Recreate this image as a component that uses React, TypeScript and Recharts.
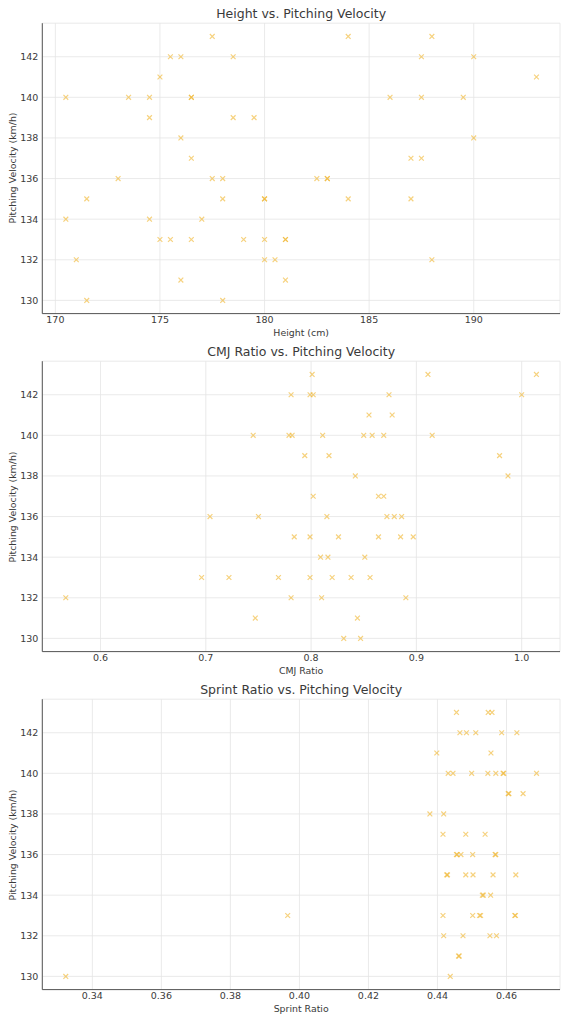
import React from 'react';
import { ScatterChart, Scatter, XAxis, YAxis, CartesianGrid } from 'recharts';

// Pitching velocity (km/h), grouped; the three x-value arrays follow the same order
const velocities = [
  143, 143, 143,
  142, 142, 142, 142, 142,
  141, 141,
  140, 140, 140, 140, 140, 140, 140, 140,
  139, 139, 139,
  138, 138,
  137, 137, 137,
  136, 136, 136, 136, 136, 136,
  135, 135, 135, 135, 135, 135,
  134, 134, 134,
  133, 133, 133, 133, 133, 133, 133,
  132, 132, 132, 132,
  131, 131,
  130, 130,
];

const heightsCm = [
  177.5, 184, 188,
  175.5, 176, 178.5, 187.5, 190,
  175, 193,
  170.5, 173.5, 174.5, 176.5, 176.5, 186, 187.5, 189.5,
  174.5, 178.5, 179.5,
  176, 190,
  176.5, 187, 187.5,
  173, 177.5, 178, 182.5, 183, 183,
  171.5, 178, 180, 180, 184, 187,
  170.5, 174.5, 177,
  175, 175.5, 176.5, 179, 180, 181, 181,
  171, 180, 180.5, 188,
  176, 181,
  171.5, 178,
];

const cmjRatios = [
  0.801, 0.911, 1.014,
  0.781, 0.799, 0.802, 0.874, 1.0,
  0.855, 0.877,
  0.745, 0.779, 0.782, 0.811, 0.85, 0.858, 0.869, 0.915,
  0.794, 0.817, 0.979,
  0.842, 0.987,
  0.802, 0.864, 0.869,
  0.704, 0.75, 0.815, 0.872, 0.879, 0.886,
  0.784, 0.799, 0.826, 0.864, 0.885, 0.897,
  0.809, 0.816, 0.851,
  0.696, 0.722, 0.769, 0.799, 0.82, 0.838, 0.856,
  0.567, 0.781, 0.81, 0.89,
  0.747, 0.844,
  0.831, 0.847,
];

const sprintRatios = [
  0.4455, 0.4547, 0.4558,
  0.4465, 0.4484, 0.4511, 0.4586, 0.463,
  0.4398, 0.4555,
  0.4431, 0.4445, 0.4499, 0.4546, 0.4569, 0.459, 0.4592, 0.4687,
  0.4605, 0.4607, 0.4648,
  0.4378, 0.4418,
  0.4416, 0.4482, 0.4538,
  0.4455, 0.4457, 0.4468, 0.4502, 0.4567, 0.4569,
  0.4427, 0.4429, 0.4482, 0.4503, 0.4561, 0.4627,
  0.453, 0.4533, 0.4554,
  0.3966, 0.4416, 0.4502, 0.4522, 0.4525, 0.4624, 0.4626,
  0.4418, 0.4474, 0.4552, 0.4571,
  0.4461, 0.4463,
  0.3323, 0.4437,
];

const velocityTicks = [130, 132, 134, 136, 138, 140, 142];
const heightTicks = [170, 175, 180, 185, 190];
const cmjTicks = [0.6, 0.7, 0.8, 0.9, 1.0];
const sprintTicks = [0.34, 0.36, 0.38, 0.4, 0.42, 0.44, 0.46];

const velocityDomain = [129.35, 143.65];
const heightDomain = [169.375, 194.125];
const cmjDomain = [0.5447, 1.0364];
const sprintDomain = [0.3255, 0.4755];

const FONT = '"DejaVu Sans", sans-serif';
const TEXT = '#3a3a3a';
const MARK = '#f0b429';

const XMark = (props: any) => {
  const { cx, cy } = props;
  if (cx == null || cy == null) return null;
  const s = 2.4;
  return (
    <path
      d={`M${cx - s},${cy - s}L${cx + s},${cy + s}M${cx - s},${cy + s}L${cx + s},${cy - s}`}
      stroke={MARK}
      strokeOpacity={0.6}
      strokeWidth={1.2}
      fill="none"
    />
  );
};

const panels = [
  {
    title: 'Height vs. Pitching Velocity',
    xLabel: 'Height (cm)',
    xs: heightsCm,
    ticks: heightTicks,
    domain: heightDomain,
    fmt: (v: number) => String(v),
  },
  {
    title: 'CMJ Ratio vs. Pitching Velocity',
    xLabel: 'CMJ Ratio',
    xs: cmjRatios,
    ticks: cmjTicks,
    domain: cmjDomain,
    fmt: (v: number) => v.toFixed(1),
  },
  {
    title: 'Sprint Ratio vs. Pitching Velocity',
    xLabel: 'Sprint Ratio',
    xs: sprintRatios,
    ticks: sprintTicks,
    domain: sprintDomain,
    fmt: (v: number) => v.toFixed(2),
  },
];

const PANEL_H = 338.2;
const PLOT_TOP = 23.2;
const PLOT_H = 290.4;
const PLOT_LEFT = 42.3;
const PLOT_W = 517.7;

export default function App() {
  return (
    <div
      style={{
        position: 'absolute',
        left: 0,
        top: 0,
        width: 569,
        height: 1024,
        background: '#fff',
        fontFamily: FONT,
        color: TEXT,
      }}
    >
      {panels.map((p, i) => {
        const data = p.xs.map((x, k) => ({ x, y: velocities[k] }));
        return (
          <div
            key={p.title}
            style={{ position: 'absolute', left: 0, top: i * PANEL_H, width: 569, height: 338 }}
          >
            <ScatterChart
              width={569}
              height={338}
              margin={{ top: PLOT_TOP, right: 569 - PLOT_LEFT - PLOT_W, bottom: 0, left: 0 }}
            >
              <CartesianGrid stroke="#e4e4e4" strokeWidth={0.8} />
              <XAxis
                type="number"
                dataKey="x"
                domain={p.domain}
                ticks={p.ticks}
                interval={0}
                allowDataOverflow
                tickFormatter={p.fmt}
                height={338 - PLOT_TOP - PLOT_H}
                tickLine={false}
                tickSize={3}
                tickMargin={0}
                axisLine={{ stroke: '#555', strokeWidth: 1 }}
                tick={{ fill: TEXT, fontSize: 9.5, fontFamily: FONT }}
              />
              <YAxis
                type="number"
                dataKey="y"
                domain={velocityDomain}
                ticks={velocityTicks}
                interval={0}
                allowDataOverflow
                width={PLOT_LEFT}
                tickLine={false}
                tickSize={4}
                tickMargin={0}
                axisLine={{ stroke: '#555', strokeWidth: 1 }}
                tick={{ fill: TEXT, fontSize: 9.5, fontFamily: FONT }}
              />
              <Scatter data={data} shape={XMark} isAnimationActive={false} />
            </ScatterChart>
            <div
              style={{
                position: 'absolute',
                left: PLOT_LEFT,
                width: PLOT_W,
                top: 6,
                textAlign: 'center',
                fontSize: 12.5,
                lineHeight: '16px',
                whiteSpace: 'nowrap',
              }}
            >
              {p.title}
            </div>
            <div
              style={{
                position: 'absolute',
                left: PLOT_LEFT,
                width: PLOT_W,
                top: 325,
                textAlign: 'center',
                fontSize: 9.4,
                lineHeight: '16px',
                whiteSpace: 'nowrap',
              }}
            >
              {p.xLabel}
            </div>
            <div
              style={{
                position: 'absolute',
                left: 12.8,
                top: PLOT_TOP + PLOT_H / 2,
                transform: 'translate(-50%, -50%) rotate(-90deg)',
                fontSize: 9.4,
                lineHeight: '12px',
                whiteSpace: 'nowrap',
              }}
            >
              Pitching Velocity (km/h)
            </div>
          </div>
        );
      })}
    </div>
  );
}
